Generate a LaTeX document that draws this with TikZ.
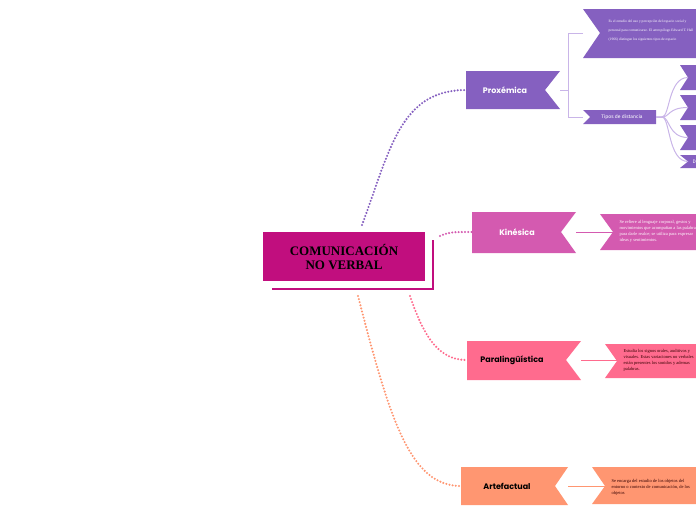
\documentclass[tikz,border=0pt]{standalone}
\usepackage{fontspec}
\setmainfont{Liberation Serif}
\newfontfamily\pop{Poppins}
\newfontfamily\fira{Fira Sans}
\begin{document}
\begin{tikzpicture}[x=1pt,y=-1pt,
  main/.style={font=\pop\bfseries\fontsize{8}{9}\selectfont},
  kid/.style={font=\fontsize{4.5}{6}\selectfont,align=left,anchor=north west},
  dot/.style={line width=2.3pt,dash pattern=on 0pt off 3.2pt,line cap=round},
  thin/.style={line width=1pt}]
\definecolor{cen}{HTML}{C10E7E}
\definecolor{pro}{HTML}{8560C0}
\definecolor{prol}{HTML}{C9B5E8}
\definecolor{kin}{HTML}{D45AB0}
\definecolor{par}{HTML}{FF6B8E}
\definecolor{art}{HTML}{FF9671}
\useasboundingbox (0,0) rectangle (696,520);
\clip (0,0) rectangle (696,520);
% central
\draw[cen,line width=2.5pt] (272,289) -- (433,289) -- (433,240);
\fill[cen] (263,232) rectangle (425,281);
\node[align=center,font=\bfseries\fontsize{13}{14}\selectfont] (c) at (344,257) {COMUNICACIÓN\\NO VERBAL};
\coordinate (c1) at (362,225); \coordinate (c2) at (440,236);
\coordinate (c3) at (410,296); \coordinate (c4) at (358,296);
% main nodes
\fill[pro] (466,71) -- (560,71) -- (545,90) -- (560,109) -- (466,109) -- cycle;
\node[main,white] (p) at (505,90) {Proxémica};
\coordinate (pl) at (466,90);
\fill[kin] (472,212) -- (576,212) -- (561,232) -- (576,253) -- (472,253) -- cycle;
\node[main,white] (k) at (517,232) {Kinésica};
\coordinate (kl) at (472,232);
\fill[par] (467,341) -- (581,341) -- (566,360) -- (581,380) -- (467,380) -- cycle;
\node[main] (pa) at (512,360) {Paralingüística};
\coordinate (pal) at (467,360);
\fill[art] (461,467) -- (568,467) -- (555,486) -- (568,505) -- (461,505) -- cycle;
\node[main] (a) at (507,486) {Artefactual};
\coordinate (al) at (461,486);
% dotted connectors
\draw[dot,pro] (c1) .. controls (390,150) and (400,90) .. (pl);
\draw[dot,kin] (c2) .. controls (450,232) .. (kl);
\draw[dot,par] (c3) .. controls (425,340) and (440,360) .. (pal);
\draw[dot,art] (c4) .. controls (390,420) and (410,486) .. (al);
% proxemica children
\fill[pro] (583,9) -- (700,9) -- (700,58) -- (583,58) -- (600,33) -- cycle;
\node[kid,white,font=\fontsize{3.6}{9}\selectfont] (pc) at (605,16) {Es el estudio del uso y percepción del espacio social y\\personal para comunicarse. El antropólogo Edward T. Hall\\(1966) distingue los siguientes tipos de espacio};
\fill[pro] (583,110) -- (656,110) -- (656,124) -- (583,124) -- (590,117) -- cycle;
\node[white,font=\fira\fontsize{5}{6}\selectfont] (td) at (622,117) {Tipos de distancia};
\draw[thin,prol] (560,90) -- (568,90);
\draw[thin,prol] (583,33) -- (568,33) -- (568,117) -- (583,117);
\foreach \ya/\yb/\n in {65/90/1,95/120/2,125/150/3,155/168/4}{
  \fill[pro] (680,\ya) -- (700,\ya) -- (700,\yb) -- (680,\yb) -- (688,{(\ya+\yb)/2}) -- cycle;
  \draw[thin,prol] (656,117) -- (662,117) .. controls (670,117) and (668,{(\ya+\yb)/2}) .. (688,{(\ya+\yb)/2});
}
\node[white,font=\fira\fontsize{5}{6}\selectfont,anchor=west] (d4) at (689,161.5) {Di};
% kinesica child
\fill[kin] (600,214) -- (700,214) -- (700,250) -- (600,250) -- (613,232) -- cycle;
\draw[thin,kin] (576,232) -- (613,232);
\node[kid,white] (kc) at (616,217) {Se refiere al lenguaje corporal, gestos y\\movimientos que acompañan a las palabras\\para darle realce; se utiliza para expresar\\ideas y sentimientos.};
% paralinguistica child
\fill[par] (605,344) -- (700,344) -- (700,378) -- (605,378) -- (617,361) -- cycle;
\draw[thin,par] (581,360) -- (617,360);
\node[kid,black!80!red] (pac) at (620,346) {Estudia los signos orales, auditivos y\\visuales. Estas variaciones no verbales\\están presentes los sonidos y ademas\\palabras.};
% artefactual child
\fill[art] (592,467) -- (700,467) -- (700,504) -- (592,504) -- (605,486) -- cycle;
\draw[thin,art] (568,486) -- (605,486);
\node[kid,black!80!red] (ac) at (608,476) {Se encarga del estudio de los objetos del\\entorno o contexto de comunicación, de los\\objetos};
\end{tikzpicture}
\end{document}
